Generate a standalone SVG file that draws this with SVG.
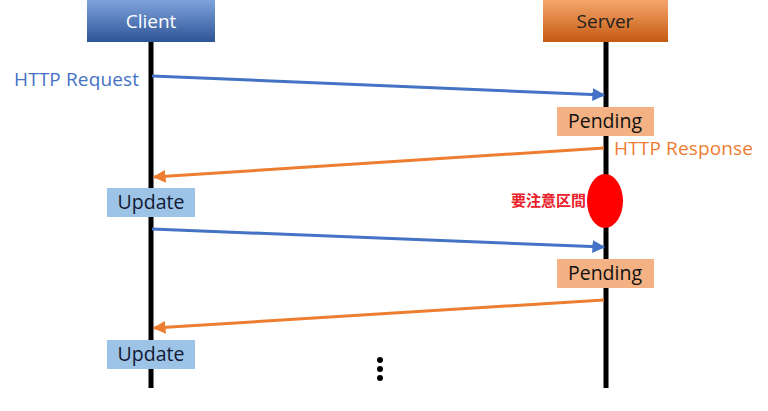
<svg xmlns="http://www.w3.org/2000/svg" width="768" height="411" viewBox="0 0 768 411">
<style>
text{font-family:"Open Sans","Liberation Sans",sans-serif}
.head{font-size:19px;text-anchor:middle}
.lbl{font-size:19px}
.box{font-size:19.5px;text-anchor:middle}
.life{stroke:#000;stroke-width:5}
.req{stroke:#4472C4;stroke-width:3;fill:none}
.res{stroke:#ED7D31;stroke-width:3;fill:none}
</style>
<defs>
<linearGradient id="gc" x1="0" y1="0" x2="0" y2="1">
<stop offset="0" stop-color="#7FA3DC"/><stop offset="1" stop-color="#2D5496"/>
</linearGradient>
<linearGradient id="gs" x1="0" y1="0" x2="0" y2="1">
<stop offset="0" stop-color="#F5A66C"/><stop offset="1" stop-color="#C55A11"/>
</linearGradient>
<marker id="ab" viewBox="0 0 10 10" refX="9" refY="5" markerWidth="4.3" markerHeight="4.3" orient="auto"><path d="M0,0L10,5L0,10z" fill="#4472C4"/></marker>
<marker id="ao" viewBox="0 0 10 10" refX="9" refY="5" markerWidth="4.3" markerHeight="4.3" orient="auto"><path d="M0,0L10,5L0,10z" fill="#ED7D31"/></marker>
</defs>
<rect width="768" height="411" fill="#fff"/>
<g id="lifelines">
<line class="life" x1="151" y1="42" x2="151" y2="388"/>
<line class="life" x1="606" y1="42" x2="606" y2="388"/>
</g>
<g id="client"><rect x="87" y="0" width="128" height="42" fill="url(#gc)"/><text class="head" x="151" y="28" fill="#fff">Client</text></g>
<g id="server"><rect x="543" y="0" width="125" height="42" fill="url(#gs)"/><text class="head" x="605" y="28" fill="#222">Server</text></g>
<g id="connectors">
<line class="req" x1="152" y1="76" x2="604" y2="95" marker-end="url(#ab)"/>
<line class="res" x1="604" y1="148" x2="154" y2="177" marker-end="url(#ao)"/>
<line class="req" x1="152" y1="229" x2="604" y2="247" marker-end="url(#ab)"/>
<line class="res" x1="604" y1="300" x2="154" y2="328" marker-end="url(#ao)"/>
</g>
<g id="labels">
<text class="lbl" x="14" y="86" fill="#4472C4" textLength="125">HTTP Request</text>
<text class="lbl" x="614" y="155" fill="#ED7D31" textLength="139">HTTP Response</text>
</g>
<g id="pending1"><rect x="557" y="107" width="97" height="29" fill="#F4B183"/><text class="box" x="605" y="128" fill="#111">Pending</text></g>
<g id="update1"><rect x="107" y="188" width="88" height="29" fill="#9DC3E6"/><text class="box" x="151" y="209" fill="#111833">Update</text></g>
<g id="caution"><ellipse cx="605" cy="201" rx="18" ry="27" fill="#FF0000"/><text x="586" y="206" font-size="15" font-weight="bold" fill="#E8202A" text-anchor="end" style="font-family:'Noto Sans CJK JP',sans-serif">要注意区間</text></g>
<g id="pending2"><rect x="557" y="259" width="97" height="29" fill="#F4B183"/><text class="box" x="605" y="280" fill="#111">Pending</text></g>
<g id="update2"><rect x="107" y="340" width="88" height="29" fill="#9DC3E6"/><text class="box" x="151" y="361" fill="#111833">Update</text></g>
<g id="ellipsis" fill="#000"><circle cx="380" cy="360" r="3"/><circle cx="380" cy="369" r="3"/><circle cx="380" cy="378" r="3"/></g>
</svg>
